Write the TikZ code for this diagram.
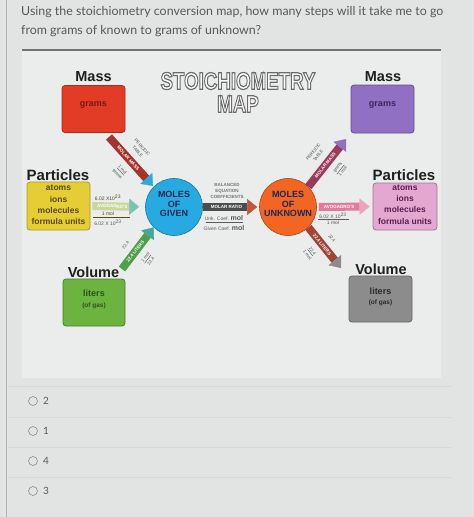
\documentclass[tikz,border=0pt]{standalone}
\usepackage{fontspec}
\setmainfont{Liberation Sans}
\newfontfamily\qfont{Lato}
\usepackage{graphicx}
\usetikzlibrary{arrows.meta,calc}
\newcommand\outlinetext[1]{\special{pdf:literal direct 0.42 0.42 0.42 RG 1.2 w 2 Tr}#1\special{pdf:literal direct 0 Tr}}
\definecolor{pagebg}{HTML}{E2E4E4}
\definecolor{mapbg}{HTML}{EBECEC}
\definecolor{qtxt}{HTML}{585858}
\definecolor{redB}{HTML}{E23B26}
\definecolor{redT}{HTML}{7A1A10}
\definecolor{purB}{HTML}{8F70C3}
\definecolor{purT}{HTML}{3A2560}
\definecolor{yelB}{HTML}{E5CE35}
\definecolor{yelT}{HTML}{5A4A12}
\definecolor{pinB}{HTML}{E4A8D0}
\definecolor{pinT}{HTML}{5A1F4F}
\definecolor{grnB}{HTML}{6CB33F}
\definecolor{grnT}{HTML}{2E5418}
\definecolor{gryB}{HTML}{8C8C8C}
\definecolor{gryT}{HTML}{2A2A2A}
\definecolor{bluC}{HTML}{27A9E1}
\definecolor{ornC}{HTML}{F26522}
\definecolor{navy}{HTML}{1B2A55}
\definecolor{redD}{HTML}{A5352C}
\definecolor{purD}{HTML}{9C3A5E}
\definecolor{grnD}{HTML}{4E9E4A}
\definecolor{tealH}{HTML}{3FA89A}
\definecolor{brD}{HTML}{9E4538}
\definecolor{avoL}{HTML}{C9D6A0}
\definecolor{avoLH}{HTML}{7CC3B0}
\definecolor{midH}{HTML}{C4573A}
\definecolor{pinA}{HTML}{E27A9C}
\definecolor{pinAH}{HTML}{EDA3BD}
\begin{document}
\begin{tikzpicture}[x=1pt,y=-1pt,
 qtext/.style={font=\qfont\fontsize{12.4}{14}\selectfont, text=qtxt, inner sep=0, anchor=west},
 head/.style={font=\bfseries\fontsize{14.5}{16}\selectfont, text=black!88, inner sep=0},
 box/.style={rounded corners=3pt, line width=0.8pt, inner sep=0},
 btxt/.style={font=\bfseries\fontsize{8.5}{11.3}\selectfont, align=center, inner sep=0},
 circ/.style={circle, inner sep=0, minimum size=57pt, line width=0.6pt},
 ctxt/.style={font=\bfseries\fontsize{9}{9.2}\selectfont, align=center, inner sep=0, text=navy},
 fat/.style 2 args={draw=#1, line width=8pt, -{Triangle[length=10pt,width=16pt,line width=0.3pt,color=#2,fill=#2]}},
 intext/.style={sloped, font=\bfseries\fontsize{4.5}{5}\selectfont, text=white, inner sep=0},
 side/.style={sloped, font=\fontsize{4.3}{6.2}\selectfont, align=center, inner sep=0, text=black!70},
 small/.style={font=\fontsize{5}{6}\selectfont, inner sep=0, align=center},
 radio/.style={circle, draw=black!45, line width=0.6pt, minimum size=9pt, inner sep=0},
 opt/.style={font=\qfont\fontsize{10}{12}\selectfont, text=black!65, anchor=west, inner sep=0},
 titlef/.style={font=\bfseries\fontsize{24}{24}\selectfont, inner sep=0, text=white}
]
\useasboundingbox (0,0) rectangle (474,517);
\fill[pagebg] (0,0) rectangle (474,517);
\fill[mapbg] (22,50) rectangle (441,378);
\draw[black!55, line width=1.2pt] (22,50) -- (441,50);
\draw[black!30, line width=0.8pt] (6,0) -- (6,517);

% question
\node[qtext] (q1) at (21,12) {Using the stoichiometry conversion map, how many steps will it take me to go};
\node[qtext] (q2) at (21,31) {from grams of known to grams of unknown?};

% title
\node[titlef] (t1) at (238,81) {\scalebox{0.78}[1]{\outlinetext{STOICHIOMETRY}}};
\node[titlef] (t2) at (238,104) {\scalebox{0.78}[1]{\outlinetext{MAP}}};

% mass boxes
\node[box, fill=redB, draw=redB!75!black, minimum width=63pt, minimum height=47pt] (mL) at (93.5,109) {};
\node[btxt, text=redT, font=\bfseries\fontsize{9}{10}\selectfont] (mLt) at (93.5,105) {grams};
\node[head] (mLh) at (93.5,77) {Mass};
\node[box, fill=purB, draw=purB!70!black, minimum width=63pt, minimum height=48pt] (mR) at (382.5,109) {};
\node[btxt, text=purT, font=\bfseries\fontsize{9}{10}\selectfont] (mRt) at (382.5,105) {grams};
\node[head] (mRh) at (383,77) {Mass};

% particle boxes
\node[box, fill=yelB, draw=yelB!75!black, minimum width=63pt, minimum height=48pt] (pL) at (58.5,206) {};
\node[btxt, text=yelT] (pLt) at (58.5,205) {atoms\\ions\\molecules\\formula units};
\node[head, font=\bfseries\fontsize{15}{16}\selectfont] (pLh) at (58,175) {Particles};
\node[box, fill=pinB, draw=pinB!70!black, minimum width=64pt, minimum height=47pt] (pR) at (405,206.5) {};
\node[btxt, text=pinT] (pRt) at (405,204.5) {atoms\\ions\\molecules\\formula units};
\node[head, font=\bfseries\fontsize{15}{16}\selectfont] (pRh) at (404,175) {Particles};

% volume boxes
\node[box, fill=grnB, draw=grnB!70!black, minimum width=62pt, minimum height=47pt] (vL) at (94,302.5) {};
\node[btxt, text=grnT, font=\bfseries\fontsize{9}{10}\selectfont] (vLt1) at (94,293) {liters};
\node[btxt, text=grnT, font=\bfseries\fontsize{6.5}{8}\selectfont] (vLt2) at (94,306) {(of gas)};
\node[head] (vLh) at (93.5,272) {Volume};
\node[box, fill=gryB, draw=black!60, minimum width=63pt, minimum height=46pt] (vR) at (380.5,299) {};
\node[btxt, text=gryT, font=\bfseries\fontsize{9}{10}\selectfont] (vRt1) at (380.5,291) {liters};
\node[btxt, text=gryT, font=\bfseries\fontsize{6.5}{8}\selectfont] (vRt2) at (380.5,303) {(of gas)};
\node[head] (vRh) at (381,269) {Volume};

% mole circles
\node[circ, fill=bluC, draw=bluC!70!black] (given) at (174,207) {};
\node[ctxt] (givent) at (174,204) {MOLES\\OF\\GIVEN};
\node[circ, fill=ornC, draw=ornC!70!black] (unk) at (288,207) {};
\node[ctxt] (unkt) at (288,204) {MOLES\\OF\\UNKNOWN};

% diagonal arrows
\coordinate (tlS) at (109,137);
\draw[fat={redD}{bluC}, shorten >=1pt] (tlS) -- (given.north west)
  node[intext, pos=0.43] (tlx) {MOLAR MASS}
  node[side, pos=0.45, above=6pt] (tla) {PERIODIC\\TABLE}
  node[side, pos=0.5, below=6pt] (tlb) {\underline{1 mol}\\[0.5pt]grams};
\coordinate (trE) at (346,139);
\draw[fat={purD}{purB}] (unk.north east) -- (trE)
  node[intext, pos=0.45] (trx) {MOLAR MASS}
  node[side, pos=0.5, above=6pt] (tra) {PERIODIC\\TABLE}
  node[side, pos=0.55, below=6pt] (trb) {\underline{grams}\\[0.5pt]1 mol};
\coordinate (blS) at (122,269);
\draw[fat={grnD}{tealH}] (blS) -- (given.south west)
  node[intext, pos=0.42] (blx) {22.4 LITERS}
  node[side, pos=0.4, above=6pt] (bla) {22.4}
  node[side, pos=0.45, below=6pt] (blb) {\underline{1 mol}\\[0.5pt]22.4};
\coordinate (brE) at (341,268);
\draw[fat={brD}{gryB}] (unk.south east) -- (brE)
  node[intext, pos=0.42] (brx) {22.4 LITERS}
  node[side, pos=0.45, above=6pt] (bra) {22.4}
  node[side, pos=0.4, below=6pt] (brb) {\underline{22.4}\\[0.5pt]1 mol};

% horizontal arrows
\draw[fat={avoL}{avoLH}, shorten <=2pt, shorten >=6pt] (pL.east) -- (given.west)
  node[intext, pos=0.4] (avl) {AVOGADRO'S};
\node[small, text=yelT] (avl1) at (108,198) {6.02 X10\textsuperscript{23}};
\node[small, text=yelT] (avl2) at (108,214) {1 mol};
\draw[yelT, line width=0.5pt] (93,217.5) -- (130,217.5);
\node[small, text=black!65] (avl3) at (108,222.5) {6.02 X 10\textsuperscript{23}};

\draw[fat={black!70}{midH}, shorten >=2pt] (given.east) -- (unk.west)
  node[intext, pos=0.42] (mr) {MOLAR RATIO};
\node[small, font=\bfseries\fontsize{4.5}{6}\selectfont, text=black!55] (bal) at (227,191) {BALANCED\\EQUATION\\COEFFICIENTS};
\node[small, text=black!65] (unkc) at (224,218) {Unk. Coef. {\bfseries\fontsize{7}{7}\selectfont mol}};
\draw[black!65, line width=0.5pt] (206,222.5) -- (243,222.5);
\node[small, text=black!65] (givc) at (224,228) {Given Coef. {\bfseries\fontsize{7}{7}\selectfont mol}};

\draw[fat={pinA}{pinAH}, shorten <=2pt, shorten >=3pt] (unk.east) -- (pR.west)
  node[intext, pos=0.4] (avr) {AVOGADRO'S};
\node[small, text=black!65] (avr1) at (333,215.5) {6.02 X 10\textsuperscript{23}};
\draw[black!65, line width=0.5pt] (318,219) -- (349,219);
\node[small, text=black!65] (avr2) at (333,223) {1 mol};

% answer options
\foreach \yy in {386,417,447,477} \draw[black!15, line width=0.6pt] (8,\yy) -- (452,\yy);
\node[radio] (r1) at (33,401) {}; \node[opt] (o1) at (43,401) {2};
\node[radio] (r2) at (33,431) {}; \node[opt] (o2) at (43,431) {1};
\node[radio] (r3) at (33,461) {}; \node[opt] (o3) at (43,461) {4};
\node[radio] (r4) at (33,491) {}; \node[opt] (o4) at (43,491) {3};
\end{tikzpicture}
\end{document}
